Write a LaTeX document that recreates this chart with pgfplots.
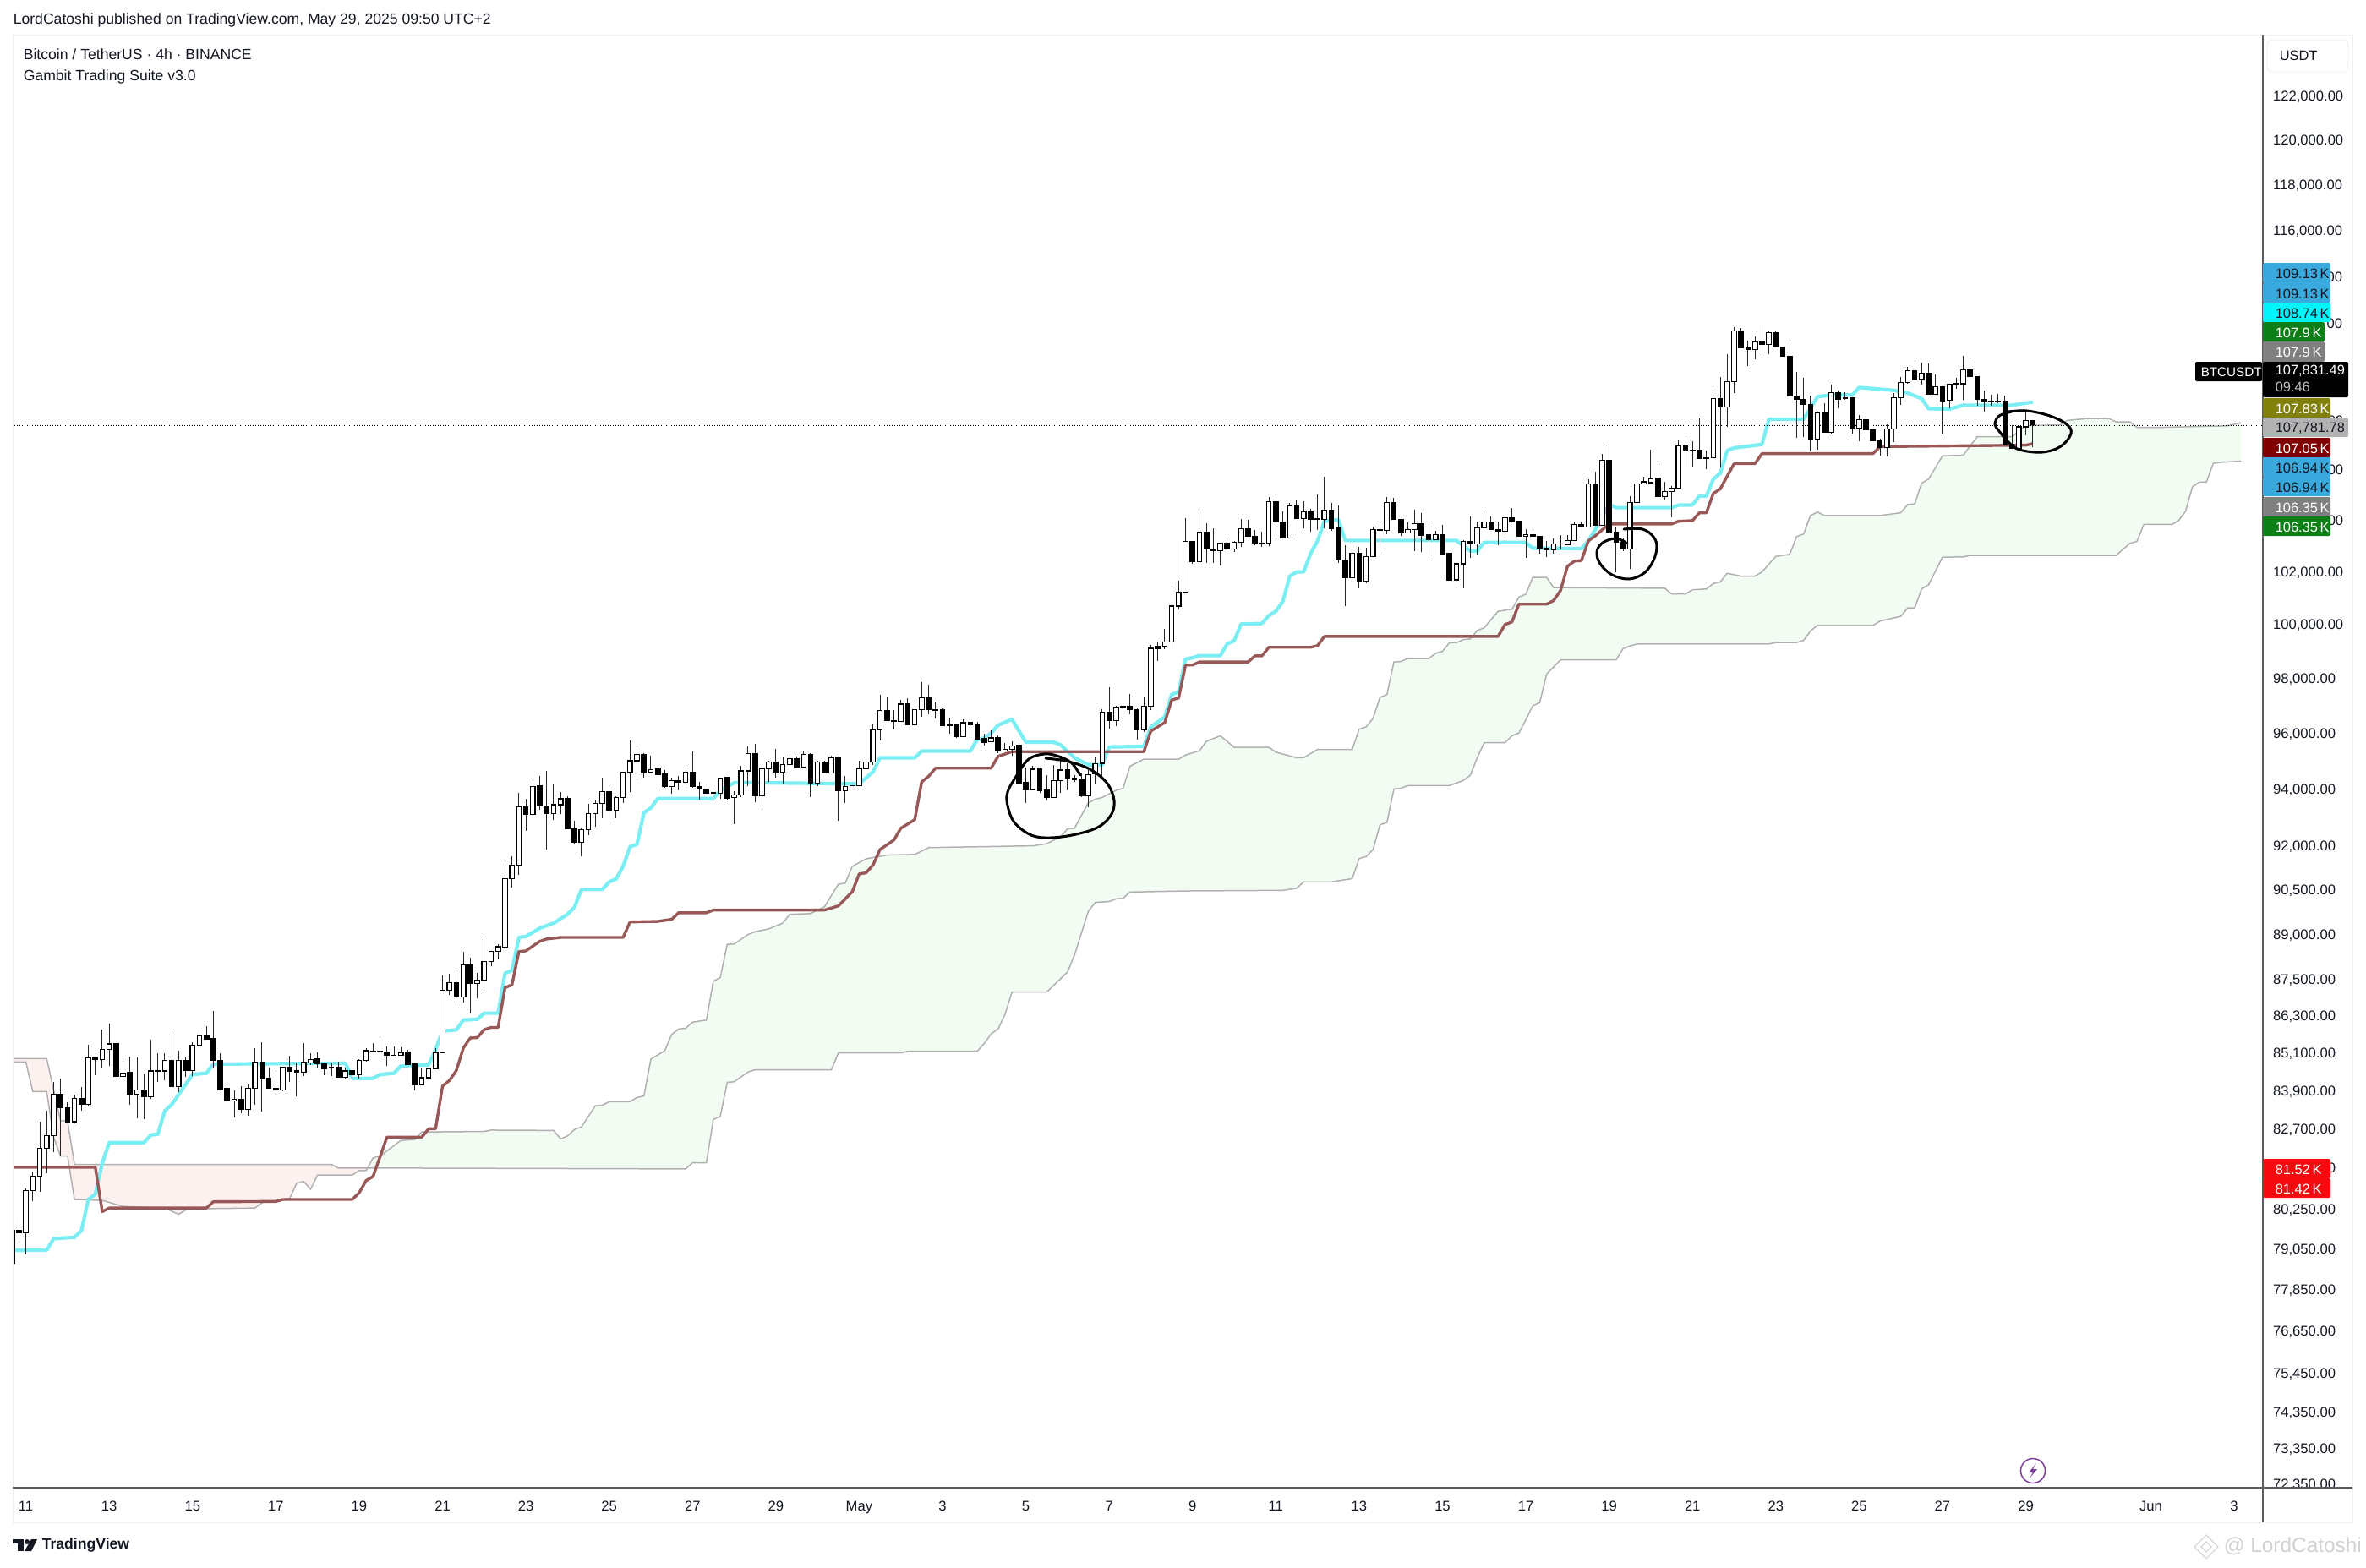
\documentclass[border=0pt]{standalone}
\usepackage{fontspec}
\setmainfont{Liberation Sans}
\usepackage{pgfplots}
\usepackage{pgfplotstable}
\pgfplotsset{compat=1.18}
\usepgfplotslibrary{fillbetween}
\definecolor{tvtext}{RGB}{19,23,34}
\definecolor{tvcyan}{RGB}{122,238,242}
\definecolor{tvbrown}{RGB}{152,88,88}
\definecolor{tvspan}{RGB}{176,176,176}
\definecolor{tvgreen}{RGB}{242,252,243}
\definecolor{tvred}{RGB}{252,241,239}
\definecolor{tagblue}{RGB}{58,170,222}
\definecolor{tagcyan}{RGB}{0,245,250}
\definecolor{taggreen}{RGB}{12,128,22}
\definecolor{taggrey}{RGB}{128,128,128}
\definecolor{tagolive}{RGB}{128,128,10}
\definecolor{taglight}{RGB}{178,178,178}
\definecolor{tagdred}{RGB}{128,0,0}
\definecolor{tagred}{RGB}{245,10,15}
\definecolor{tvborder}{RGB}{238,239,242}
\definecolor{tvline}{RGB}{90,90,95}
\definecolor{bolt}{RGB}{123,63,152}

% k = 4h bar number, 0 = 11 Apr; open high low close (USDT). The axis runs in units of 100,000 USDT.
\pgfplotstableread{
k o h l c
-2 78650 80050 78390 79610
-1 79610 80000 79350 79550
0 79550 80870 78910 80800
1 80800 81390 80480 81240
2 81240 82930 80780 82110
3 82110 83290 81350 82500
4 82500 84190 82000 83800
5 83800 84280 81850 83360
6 83380 83540 82910 82930
7 82930 83790 82870 83670
8 83670 84010 83290 83470
9 83470 85380 83440 84960
10 84960 85000 84390 84900
11 84900 85860 84600 85230
12 85230 86060 84690 85400
13 85400 85420 84330 84360
14 84360 84930 84240 84470
15 84480 85000 83450 83790
16 83790 84960 83030 83930
17 83930 84420 83000 83710
18 83710 85520 83650 84530
19 84530 85090 84190 84510
20 84530 85090 84240 84880
21 84880 85770 83680 84040
22 84040 85180 83860 84880
23 84880 85000 84330 84550
24 84550 85450 84370 85340
25 85340 85860 85310 85670
26 85670 85960 85540 85560
27 85560 86460 84600 84880
28 84880 85090 83920 83960
29 83970 84190 83560 83580
30 83580 83920 83070 83640
31 83640 84050 83200 83310
32 83310 84100 83110 83990
33 83990 85270 83470 84800
34 84800 85450 83250 84290
35 84290 84640 83960 83980
36 83990 84460 83790 83930
37 83930 84660 83880 84640
38 84640 85020 84170 84520
39 84530 84800 83720 84500
40 84500 85430 84370 84800
41 84790 85110 84730 84900
42 84910 85130 84600 84770
43 84770 84800 84390 84600
44 84640 84800 84370 84630
45 84650 84840 84320 84330
46 84330 84640 84300 84530
47 84530 84870 84300 84420
48 84420 84910 84300 84860
49 84860 85270 84840 85180
50 85170 85430 85150 85160
51 85170 85650 85150 85160
52 85150 85320 84690 85040
53 85040 85320 85020 85030
54 85040 85290 85020 85130
55 85130 85200 84710 84730
56 84760 84780 83920 84090
57 84090 84620 84080 84320
58 84320 84640 84250 84610
59 84610 85270 84600 85130
60 85120 87630 85090 87140
61 87140 87680 87000 87400
62 87400 87790 86620 86910
63 86910 88410 86730 87970
64 87970 88210 86380 87370
65 87360 87700 86870 87470
66 87470 88840 87050 88080
67 88080 88430 87930 88430
68 88430 88680 88160 88580
69 88570 91380 88440 90870
70 90890 91640 90580 91350
71 91350 93850 91010 93380
72 93380 93660 92520 93100
73 93100 94220 93060 94090
74 94100 94450 93260 93400
75 93410 94650 91880 93130
76 93140 94150 92920 93440
77 93440 93880 93110 93650
78 93650 93750 92590 92610
79 92610 92870 92080 92130
80 92130 92620 91640 92580
81 92580 93460 92370 93140
82 93140 93590 92670 93490
83 93490 94400 92970 93910
84 93910 94120 92820 93250
85 93250 93750 92970 93700
86 93700 94610 93510 94580
87 94580 95720 93900 95000
88 95000 95550 94300 95240
89 95240 95260 94400 94570
90 94580 95180 94560 94690
91 94700 94760 94500 94500
92 94520 94670 94050 94080
93 94080 94400 93820 94290
94 94300 94450 93950 94230
95 94230 94860 94000 94580
96 94580 95330 94050 94080
97 94090 94250 93610 93990
98 94000 94020 93820 93840
99 93860 94000 93560 93850
100 93850 94400 93660 94380
101 94400 94400 93610 93680
102 93690 93920 92770 93780
103 93780 94810 93700 94640
104 94640 95510 94100 95270
105 95270 95600 93530 93750
106 93750 94810 93390 94730
107 94730 95010 94250 94970
108 94970 95430 94400 94600
109 94600 95110 94150 94870
110 94870 95240 94860 95080
111 95090 95160 94760 94780
112 94780 95360 94760 95240
113 95240 95260 93700 94200
114 94200 95010 94100 94970
115 94970 95010 94560 94570
116 94570 95190 94560 95110
117 95120 95160 92870 93930
118 93930 94450 93490 94090
119 94120 94130 94100 94110
120 94110 94990 94100 94730
121 94730 95010 94700 94960
122 94960 96320 94860 96120
123 96120 97380 95740 96810
124 96810 97340 96430 96450
125 96460 96840 96120 96430
126 96430 97200 96420 97050
127 97050 97280 96280 96300
128 96300 97070 96280 96860
129 96860 97870 96590 97270
130 97270 97750 96690 96850
131 96860 97100 96540 96820
132 96840 96900 96250 96270
133 96280 96560 95980 96270
134 96280 96330 95820 95870
135 95870 96480 95840 96370
136 96370 96380 95820 96300
137 96310 96410 95750 95780
138 95800 95980 95550 95670
139 95680 96110 95670 95820
140 95820 95920 95270 95360
141 95360 95640 95340 95420
142 95420 95700 95180 95540
143 95550 95720 94150 94200
144 94220 94760 93490 93970
145 93970 94810 93950 94700
146 94700 94760 93850 93950
147 93970 94500 93580 93700
148 93700 94860 93700 94300
149 94300 95160 93850 94670
150 94670 94910 93950 94380
151 94390 94500 94250 94320
152 94330 94550 93700 93750
153 93760 94660 93360 94500
154 94530 95110 94150 94900
155 94910 96860 94450 96770
156 96770 97670 96170 96450
157 96460 96980 96250 96940
158 96950 97080 96780 96960
159 96970 97410 96680 96840
160 96850 96940 95770 96120
161 96120 97320 96040 96970
162 96980 99230 96840 99110
163 99110 99340 98650 99200
164 99200 99840 99070 99360
165 99360 101470 99070 100700
166 100700 101680 100560 101240
167 101240 104080 101230 103190
168 103190 103200 102330 102390
169 102390 104320 102330 103550
170 103550 103880 102350 102890
171 102890 103710 102350 102830
172 102830 103140 102260 103110
173 103120 103370 102680 102890
174 102890 103200 102770 103160
175 103160 104060 102960 103680
176 103680 104030 103350 103380
177 103390 103640 103040 103080
178 103120 103560 102960 103090
179 103120 104910 103010 104740
180 104740 104910 103400 103950
181 103950 104360 103290 103310
182 103310 104690 103290 104580
183 104580 104800 104060 104080
184 104080 104770 103690 104330
185 104340 104470 103550 104040
186 104060 105020 103640 104050
187 104050 105740 103690 104410
188 104410 104690 103580 103680
189 103690 104580 102350 102460
190 102470 103040 100700 101780
191 101790 103090 101760 102730
192 102730 102980 101390 101650
193 101650 102930 101570 102600
194 102600 103750 102570 103650
195 103640 103970 102770 103620
196 103620 104910 103470 104710
197 104710 104870 104030 104030
198 104050 104050 103400 103510
199 103510 103920 103500 103650
200 103650 104410 102820 103880
201 103880 104280 102770 103430
202 103450 103860 102550 103250
203 103250 103580 103220 103450
204 103450 103830 102680 102690
205 102710 102710 101680 101700
206 101700 102380 101470 102310
207 102310 103220 101360 103190
208 103190 104140 102530 103090
209 103090 103970 102660 103710
210 103710 104430 103690 103930
211 103940 104140 103640 103640
212 103650 103970 103040 103580
213 103580 104250 103290 104110
214 104110 104500 103910 103980
215 103980 103990 103350 103380
216 103390 103670 102550 103450
217 103440 103660 103370 103390
218 103390 103400 102710 102910
219 102930 103200 102590 102850
220 102850 103310 102710 103080
221 103090 103440 102870 103080
222 103060 103420 103040 103210
223 103220 103970 103200 103840
224 103840 103910 103730 103750
225 103750 105630 103730 105440
226 105440 105920 103780 103800
227 103800 106650 103780 106390
228 106390 107050 103530 103550
229 103550 103730 102000 103150
230 103150 103310 102820 102900
231 102900 104960 102110 104710
232 104710 105690 104690 105440
233 105440 105740 105410 105520
234 105490 106820 105460 105660
235 105660 106360 104800 104940
236 104940 105520 104800 105140
237 105140 105350 104130 105260
238 105260 107220 105240 106970
239 106970 107240 106140 106800
240 106800 107140 106140 106780
241 106780 108080 106420 106440
242 106480 106760 106020 106450
243 106480 109400 106440 108880
244 108880 109770 106080 108530
245 108530 110730 107730 109580
246 109580 111860 109110 111690
247 111690 111800 110970 110970
248 110980 111290 110230 110910
249 110910 111450 110500 111220
250 111220 111950 110790 111120
251 111120 111680 110700 111620
252 111620 111680 110990 111010
253 111010 111030 110620 110620
254 110620 111320 108960 108980
255 108990 109980 107270 108850
256 108850 109720 107330 108640
257 108640 108990 106740 107240
258 107240 108360 106820 108290
259 108300 108700 107480 107500
260 107500 109460 107470 109130
261 109130 109220 108470 108840
262 108900 109160 108820 108880
263 108900 108900 107470 107670
264 107680 108220 107160 108030
265 108030 108190 107330 107620
266 107620 107640 107160 107180
267 107200 107240 106560 106900
268 106900 107840 106530 107640
269 107650 109110 107100 108920
270 108920 109770 108610 109540
271 109550 110190 109510 110020
272 110030 110320 109650 109670
273 109670 110380 109460 109940
274 109940 110320 109050 109050
275 109050 109860 109050 109360
276 109370 109400 107450 108800
277 108820 109510 108470 109460
278 109510 109720 109280 109460
279 109490 110640 108820 110070
280 110070 110440 109770 109790
281 109790 109790 108590 108840
282 108840 109220 108360 108770
283 108770 109050 108590 108760
284 108770 109070 108700 108760
285 108780 108990 106990 107010
286 107030 107790 106830 106850
287 106860 107990 106860 107730
288 107730 108360 107390 107990
289 107990 107990 106900 107830
}\candles

\pgfplotstableread{
k p
-2 84820
0 84820
1 83880
3 83880
4 82440
5 81870
6 81870
7 80540
11 80510
14 80330
20 80280
22 80090
23 80220
26 80260
33 80280
34 80440
38 80570
39 81030
40 81090
41 80850
42 81280
47 81280
48 81420
49 81420
49.2 81500
50 81810
51 81870
54 82350
56 82380
57 82610
66 82630
67 82670
76 82660
77 82400
78 82490
79 82690
80 82770
82 83430
83 83450
84 83560
87 83560
88 83690
89 83740
90 84910
92 85180
93 85700
94 85880
95 85900
96 86100
98 86170
99 87440
100 87560
101 88660
102 88670
104 88990
105 89080
107 89180
109 89370
110 89670
113 89690
114 89810
115 89920
117 90690
118 90730
119 91300
121 91560
124 91690
128 91710
130 91950
145 92010
147 92080
149 92330
150 92600
151 92620
153 93510
154 93640
155 93700
157 93950
158 94020
159 94810
161 95060
166 95060
167 95210
169 95360
170 95700
172 95900
174 95490
179 95490
180 95310
183 95110
184 95110
186 95410
191 95410
192 96140
193 96220
194 96530
195 97300
196 97400
197 98600
198 98620
199 98730
202 98730
203 98920
204 99000
205 99320
206 99320
207 99440
208 99460
209 99780
210 99880
212 100500
214 100580
215 101040
216 101150
217 101790
219 101790
220 101400
236 101380
237 101160
239 101160
240 101320
242 101350
243 101560
244 101620
245 101950
247 101840
249 101840
250 102000
252 102600
254 102680
255 103370
256 103470
257 104190
258 104330
259 104190
267 104190
270 104300
271 104630
272 104650
273 105470
274 105630
276 106560
279 106590
281 107330
286 107330
288 107780
293 107810
294 107990
297 108070
299 108070
300 108060
301 107930
303 107930
304 107710
308 107710
317 107770
319 107900
}\spanA

\pgfplotstableread{
k p
-2 84930
3 84930
5 82960
6 82960
7 81610
44 81610
45 81500
49.2 81500
95 81470
96 81660
98 81660
99 83000
100 83100
101 84170
102 84190
104 84500
105 84570
116 84570
117 85110
126 85110
127 85160
137 85160
138 85410
139 85720
140 85880
141 86350
142 87080
147 87080
150 87740
151 88300
153 89770
154 90070
156 90100
157 90190
158 90210
159 90420
167 90460
181 90480
183 90550
184 90770
188 90770
191 90880
192 91570
193 91640
194 91880
195 92740
196 92820
197 94000
198 94020
199 94120
205 94120
207 94300
208 94480
209 95110
210 95650
213 95650
214 95900
215 96000
216 96480
217 96990
218 97100
219 98160
221 98680
229 98680
230 99100
231 99200
232 99270
251 99270
252 99330
255 99330
256 99410
257 99760
258 99970
266 99970
267 100130
270 100310
271 100630
272 100630
273 101350
274 101510
276 102570
279 102580
280 102640
301 102640
303 103110
304 103180
305 103840
309 103840
310 103990
311 104360
312 105330
313 105510
314 105510
315 106260
316 106300
319 106350
}\spanB

\pgfplotstableread{
k p
-2 79030
3 79030
4 79370
7 79410
8 79610
9 80540
10 80700
11 81650
12 82280
17 82280
18 82520
19 82540
20 83270
21 83470
24 84420
26 84460
27 84750
46 84780
47 84300
50 84300
51 84420
53 84460
54 84690
58 84730
59 85220
60 85810
62 85850
63 86170
65 86190
66 86390
68 86390
69 87700
70 87790
71 88890
72 88920
74 89200
76 89370
78 89670
79 89910
80 90510
83 90510
84 90770
85 90870
86 91300
87 91980
88 92060
89 93160
90 93330
91 93660
99 93660
100 93950
102 94220
106 94220
120 94180
122 94610
123 95110
128 95110
129 95350
136 95350
137 95760
138 95820
139 96000
140 96280
142 96500
144 95670
148 95670
149 95570
151 95110
153 94860
155 94860
156 95500
161 95520
162 96220
164 96580
165 97400
166 97500
167 98710
168 98760
169 98840
172 98840
173 99280
174 99390
175 100020
178 100040
179 100340
180 100500
181 100870
182 101840
183 102000
184 102000
185 102710
186 103200
187 103970
189 104030
190 103220
206 103220
208 102810
209 102810
210 103140
216 103140
217 102920
224 102900
225 103200
226 103640
228 104630
229 104500
237 104500
238 104600
240 104610
241 104960
242 104960
243 105630
244 105860
245 106770
246 106880
250 107020
251 108040
256 108040
258 108960
260 109030
263 109030
264 109340
269 109220
271 109110
273 108880
274 108470
277 108450
279 108610
286 108610
289 108740
}\cyanline

\pgfplotstableread{
k p
-2 81520
10 81520
11 80170
12 80280
26 80280
27 80470
36 80480
37 80540
47 80540
48 80740
49 81115
50 81240
52 82450
57 82450
58 82710
59 82710
60 84050
61 84230
62 84550
63 85270
64 85590
65 85600
66 85860
67 85930
68 85930
69 87230
70 87320
71 88420
72 88440
74 88760
75 88840
77 88890
86 88890
87 89410
91 89430
93 89500
94 89720
98 89720
99 89810
115 89810
117 89950
119 90430
120 91040
121 91080
122 91350
123 91880
125 92210
126 92620
128 92920
129 94250
130 94450
131 94740
139 94740
140 95160
142 95330
161 95330
162 96070
164 96380
165 97200
166 97280
167 98490
168 98490
169 98600
176 98600
177 98830
178 98830
179 99150
185 99150
186 99210
187 99560
212 99560
213 100000
214 100100
215 100770
219 100770
220 100910
221 101290
222 102220
223 102420
224 102440
225 103200
226 103400
228 103860
237 103860
238 103970
240 103990
241 104300
242 104300
243 105060
244 105240
245 105750
246 106250
249 106250
250 106650
266 106650
267 106930
288 106990
289 107050
}\brownline

\newcommand\Ptag[6]{% top bottom right colour textcolour text
  \fill[#4,rounded corners=.5pt] (2677,#1) rectangle (#3,#2);
  \node[anchor=west,inner sep=0pt,text=#5,font=\fontsize{4.1}{4.5}\selectfont] at (2691,{(#1+#2)/2+1}) {#6};
}

\begin{document}
\begin{tikzpicture}
\path (0,0) rectangle (699.75pt,-463.75pt);
\begin{axis}[
  at={(3.75pt,-440pt)},anchor=south west,
  scale only axis,width=665.5pt,height=429.75pt,
  ymode=log,
  xmin=-1.899,xmax=322.14,ymin=0.72263,ymax=1.24867,
  axis line style={draw=none},
  major tick length=0pt,
  tick style={draw=none},
  xtick pos=lower,ytick pos=right,
  xtick={0,12,24,36,48,60,72,84,96,108,120,132,144,156,168,180,192,204,216,228,240,252,264,276,288,306,318},
  xticklabels={11,13,15,17,19,21,23,25,27,29,May,3,5,7,9,11,13,15,17,19,21,23,25,27,29,Jun,3},
  ytick={1.22,1.20,1.18,1.16,1.14,1.12,1.10,1.08,1.06,1.04,1.02,1.00,0.98,0.96,0.94,0.92,0.905,0.89,0.875,0.863,0.851,0.839,0.827,0.815,0.8025,0.7905,0.7785,0.7665,0.7545,0.7435,0.7335,0.7235},
  yticklabels={{122,000.00},{120,000.00},{118,000.00},{116,000.00},{114,000.00},{112,000.00},{110,000.00},{108,000.00},{106,000.00},{104,000.00},{102,000.00},{100,000.00},{98,000.00},{96,000.00},{94,000.00},{92,000.00},{90,500.00},{89,000.00},{87,500.00},{86,300.00},{85,100.00},{83,900.00},{82,700.00},{81,500.00},{80,250.00},{79,050.00},{77,850.00},{76,650.00},{75,450.00},{74,350.00},{73,350.00},{72,350.00}},
  tick label style={font=\fontsize{4.15}{4.5}\selectfont,text=tvtext},
  xticklabel style={yshift=-0.5pt},
  yticklabel style={anchor=west,xshift=-0.5pt,yshift=-0.3pt},
  minor tick num=0,
]
\addplot[name path=Ar,draw=none,restrict x to domain=-2:49.2,forget plot] table[x=k,y expr=\thisrow{p}*1e-5]{\spanA};
\addplot[name path=Br,draw=none,restrict x to domain=-2:49.2,forget plot] table[x=k,y expr=\thisrow{p}*1e-5]{\spanB};
\addplot[name path=Ag,draw=none,restrict x to domain=49.2:319,forget plot] table[x=k,y expr=\thisrow{p}*1e-5]{\spanA};
\addplot[name path=Bg,draw=none,restrict x to domain=49.2:319,forget plot] table[x=k,y expr=\thisrow{p}*1e-5]{\spanB};
\addplot[tvred,forget plot] fill between[of=Ar and Br];
\addplot[tvgreen,forget plot] fill between[of=Ag and Bg];
\addplot[tvspan,line width=.375pt,forget plot] table[x=k,y expr=\thisrow{p}*1e-5]{\spanA};
\addplot[tvspan,line width=.375pt,forget plot] table[x=k,y expr=\thisrow{p}*1e-5]{\spanB};
\addplot[tvcyan,line width=1.05pt,line join=round,forget plot] table[x=k,y expr=\thisrow{p}*1e-5]{\cyanline};
\addplot[tvbrown,line width=.85pt,line join=round,forget plot] table[x=k,y expr=\thisrow{p}*1e-5]{\brownline};
\addplot[black,line width=.25pt,dash pattern=on .3pt off .45pt,forget plot] coordinates {(-2,1.0778178)(322.14,1.0778178)};
\pgfplotsinvokeforeach{0,...,291}{
  \pgfplotstablegetelem{#1}{k}\of\candles \let\K\pgfplotsretval
  \pgfplotstablegetelem{#1}{o}\of\candles \let\O\pgfplotsretval
  \pgfplotstablegetelem{#1}{h}\of\candles \let\H\pgfplotsretval
  \pgfplotstablegetelem{#1}{l}\of\candles \let\L\pgfplotsretval
  \pgfplotstablegetelem{#1}{c}\of\candles \let\C\pgfplotsretval
  \pgfmathsetmacro\XA{\K-0.335}
  \pgfmathsetmacro\XB{\K+0.335}
  \ifnum\C<\O \def\BF{black}\else\def\BF{white}\fi
  \edef\temp{\noexpand\addplot[black!85,line width=.25pt,forget plot] coordinates {(\K,\L e-5)(\K,\H e-5)};
    \noexpand\addplot[draw=black,fill=\BF,line width=.3pt,forget plot] coordinates {(\XA,\O e-5)(\XB,\O e-5)(\XB,\C e-5)(\XA,\C e-5)} -- cycle;}
  \temp
}
\end{axis}
\begin{scope}[x=0.25pt,y=-0.25pt]
% frame
\fill[white] (2678,1761) rectangle (2782,1800);
\draw[tvborder,line width=.25pt] (15,41) rectangle (2783,1801);
\draw[tvline,line width=.3pt] (15,1760) -- (2783,1760);
\draw[tvline,line width=.3pt] (2677,41) -- (2677,1801);
% header
\node[anchor=west,inner sep=0pt,text=tvtext,font=\fontsize{4.4}{5}\selectfont] at (15,24) {LordCatoshi published on TradingView.com, May 29, 2025 09:50 UTC+2};
\node[anchor=west,inner sep=0pt,text=tvtext,font=\fontsize{4.4}{5}\selectfont] at (27,64) {Bitcoin / TetherUS · 4h · BINANCE};
\node[anchor=west,inner sep=0pt,text=tvtext,font=\fontsize{4.4}{5}\selectfont] at (27,91) {Gambit Trading Suite v3.0};
% USDT
\draw[tvborder,line width=.25pt,rounded corners=1.5pt] (2682,47) rectangle (2778,85);
\node[anchor=west,inner sep=0pt,text=tvtext,font=\fontsize{4.1}{4.5}\selectfont] at (2696,66) {USDT};
% price tags
\Ptag{311}{335}{2757}{tagblue}{tvtext}{109.13\,K}
\Ptag{335}{358}{2757}{tagblue}{tvtext}{109.13\,K}
\Ptag{358}{381}{2757}{tagcyan}{tvtext}{108.74\,K}
\Ptag{381}{404}{2750}{taggreen}{white}{107.9\,K}
\Ptag{404}{428}{2750}{taggrey}{white}{107.9\,K}
\fill[black,rounded corners=.5pt] (2597,428) rectangle (2676,451);
\node[anchor=west,inner sep=0pt,text=white,font=\fontsize{3.8}{4.5}\selectfont] at (2603,440) {BTCUSDT};
\fill[black,rounded corners=.5pt] (2677,428) rectangle (2778,470);
\node[anchor=west,inner sep=0pt,text=white,font=\fontsize{4.1}{4.5}\selectfont] at (2691,439) {107,831.49};
\node[anchor=west,inner sep=0pt,text=white!75!black,font=\fontsize{4.1}{4.5}\selectfont] at (2691,458) {09:46};
\Ptag{471}{494}{2757}{tagolive}{white}{107.83\,K}
\Ptag{494}{517}{2778}{taglight}{tvtext}{107,781.78}
\Ptag{518}{541}{2757}{tagdred}{white}{107.05\,K}
\Ptag{541}{565}{2757}{tagblue}{tvtext}{106.94\,K}
\Ptag{565}{587}{2757}{tagblue}{tvtext}{106.94\,K}
\Ptag{588}{611}{2757}{taggrey}{white}{106.35\,K}
\Ptag{611}{634}{2757}{taggreen}{white}{106.35\,K}
\Ptag{1371}{1394}{2757}{tagred}{white}{81.52\,K}
\Ptag{1394}{1417}{2757}{tagred}{white}{81.42\,K}
% hand-drawn rings
\draw[black,line width=.75pt,line cap=round] plot[smooth,tension=.6] coordinates {(1278,917)(1267,902)(1250,894)(1235,892)(1217,898)(1203,917)(1192,937)(1192,953)(1200,973)(1220,988)(1243,991)(1273,987)(1300,978)(1315,963)(1318,947)(1312,930)(1300,917)(1283,907)(1260,900)(1237,897)};
\draw[black,line width=.75pt,line cap=round] plot[smooth,tension=.6] coordinates {(1921,626)(1943,626)(1956,635)(1960,647)(1956,663)(1945,678)(1927,685)(1907,680)(1893,667)(1889,653)(1896,642)(1912,637)(1925,643)};
\draw[black,line width=.75pt,line cap=round] plot[smooth,tension=.6] coordinates {(2376,487)(2398,486)(2425,492)(2445,502)(2450,513)(2438,528)(2416,535)(2389,532)(2376,523)(2365,510)(2360,502)(2365,492)(2380,487)};
% bolt icon
\draw[bolt,line width=.375pt] (2405,1740) circle (14.5);
\fill[bolt] (2409,1731) -- (2400,1742) -- (2405,1742) -- (2401,1749) -- (2410,1738) -- (2405,1738) -- cycle;
% footer logo
\fill[tvtext] (15,1821) rectangle (28,1826);
\fill[tvtext] (21,1826) rectangle (28,1835);
\fill[tvtext] (32,1824) circle (3);
\fill[tvtext] (37,1821) -- (44,1821) -- (37,1835) -- (29,1835) -- cycle;
\node[anchor=west,inner sep=0pt,text=tvtext,font=\fontsize{4.4}{5.5}\selectfont\bfseries] at (49,1828) {TradingView};
% watermark
\begin{scope}[black!16,line width=.3pt]
\draw (2610,1816) -- (2624,1830) -- (2610,1844) -- (2596,1830) -- cycle;
\draw (2610,1824) -- (2616,1830) -- (2610,1836) -- (2604,1830) -- cycle;
\end{scope}
\node[anchor=west,inner sep=0pt,text=black!18,font=\fontsize{6.1}{7.5}\selectfont] at (2630,1829) {@ LordCatoshi};
\end{scope}
\pgfresetboundingbox
\path[use as bounding box] (0,0) rectangle (699.75pt,-463.75pt);
\end{tikzpicture}
\end{document}
